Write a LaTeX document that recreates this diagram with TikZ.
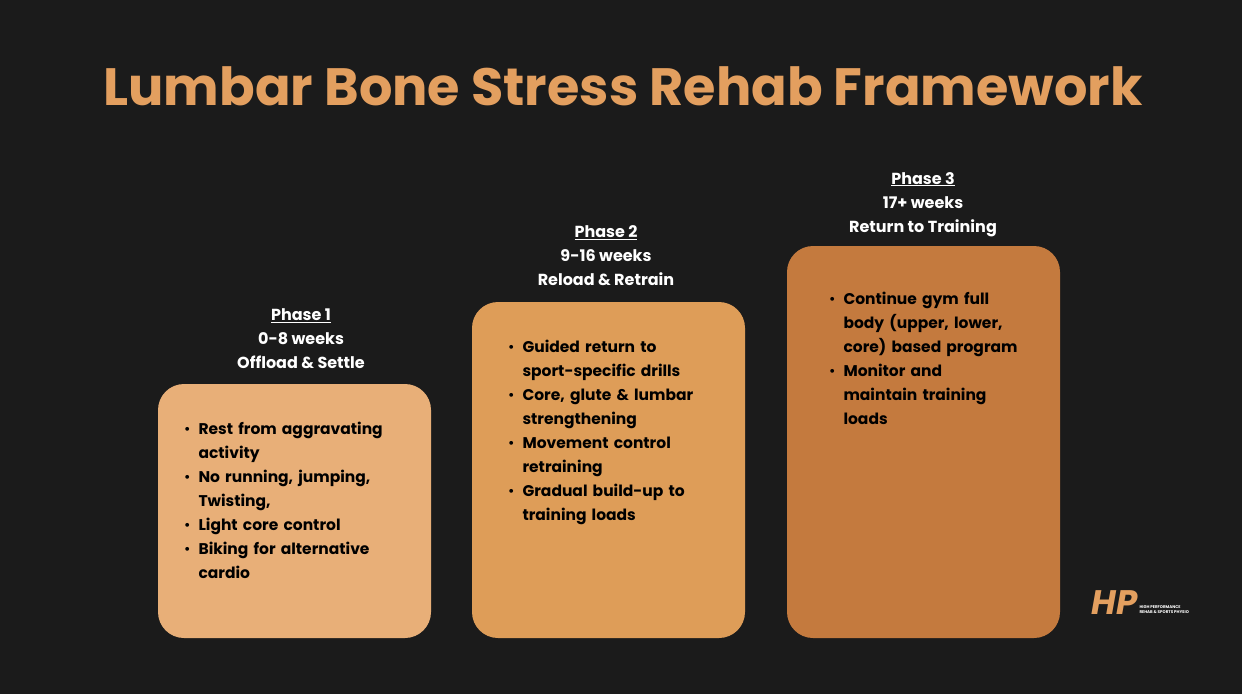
\documentclass[tikz,border=0pt]{standalone}
\usepackage{fontspec}
\setmainfont{Poppins}
\usepackage{tikz}
\usetikzlibrary{positioning}

\definecolor{bgdark}{HTML}{1B1B1B}
\definecolor{titleorange}{HTML}{E39F5F}
\definecolor{phaseone}{HTML}{E8AF78}
\definecolor{phasetwo}{HTML}{DE9D58}
\definecolor{phasethree}{HTML}{C47A3E}

\tikzset{
  phasehead/.style={text=white, align=center, font=\fontsize{16}{24}\selectfont\bfseries, anchor=south},
  phaselist/.style={text=black, anchor=north west, text width=206pt, font=\fontsize{15.5}{24}\selectfont\bfseries}
}
\newcommand{\phaseitems}[1]{\begin{itemize}\setlength{\itemsep}{-4pt}\setlength{\parsep}{0pt}\setlength{\topsep}{0pt}\setlength{\leftmargin}{17pt}\setlength{\labelsep}{8pt}#1\end{itemize}}

\begin{document}
\begin{tikzpicture}[x=1pt,y=-1pt]
        \fill[bgdark] (0,0) rectangle (1242,694);
        \useasboundingbox (0,0) rectangle (1242,694);

        \node[text=titleorange, font=\fontsize{52.5}{60}\selectfont\bfseries] (title) at (623,86) {Lumbar Bone Stress Rehab Framework};

        % phase boxes
        \fill[phaseone, rounded corners=26pt] (158,384) rectangle (431,638);
        \fill[phasetwo, rounded corners=26pt] (472,302) rectangle (745,638);
        \fill[phasethree, rounded corners=26pt] (787,246) rectangle (1060,638);

        \node[phasehead] (headone) at (301,372) {\underline{Phase 1}\\0-8 weeks\\Offload \& Settle};
        \node[phasehead] (headtwo) at (606,289) {\underline{Phase 2}\\9-16 weeks\\Reload \& Retrain};
        \node[phasehead] (headthree) at (923,240) {\underline{Phase 3}\\17+ weeks\\Return to Training};

        \node[phaselist, text width=222pt] (listone) at (170,399) {\phaseitems{\item Rest from aggravating activity \item No running, jumping, Twisting, \item Light core control \item Biking for alternative cardio}};
        \node[phaselist] (listtwo) at (494,317) {\phaseitems{\item Guided return to sport-specific drills \item Core, glute \& lumbar strengthening \item Movement control retraining \item Gradual build-up to training loads}};
        \node[phaselist, text width=200pt] (listthree) at (815,269) {\phaseitems{\item Continue gym full body (upper, lower, core) based program \item Monitor and maintain training loads}};

        % logo
        \node[text=titleorange, font=\fontsize{34}{34}\selectfont\bfseries\itshape, anchor=west] (logo) at (1088,603) {HP};
        \node[text=white, font=\fontsize{4}{5}\selectfont\bfseries, align=left, anchor=west] (logotext) at (1136,610) {HIGH PERFORMANCE\\REHAB \& SPORTS PHYSIO};
        \end{tikzpicture}
\end{document}
